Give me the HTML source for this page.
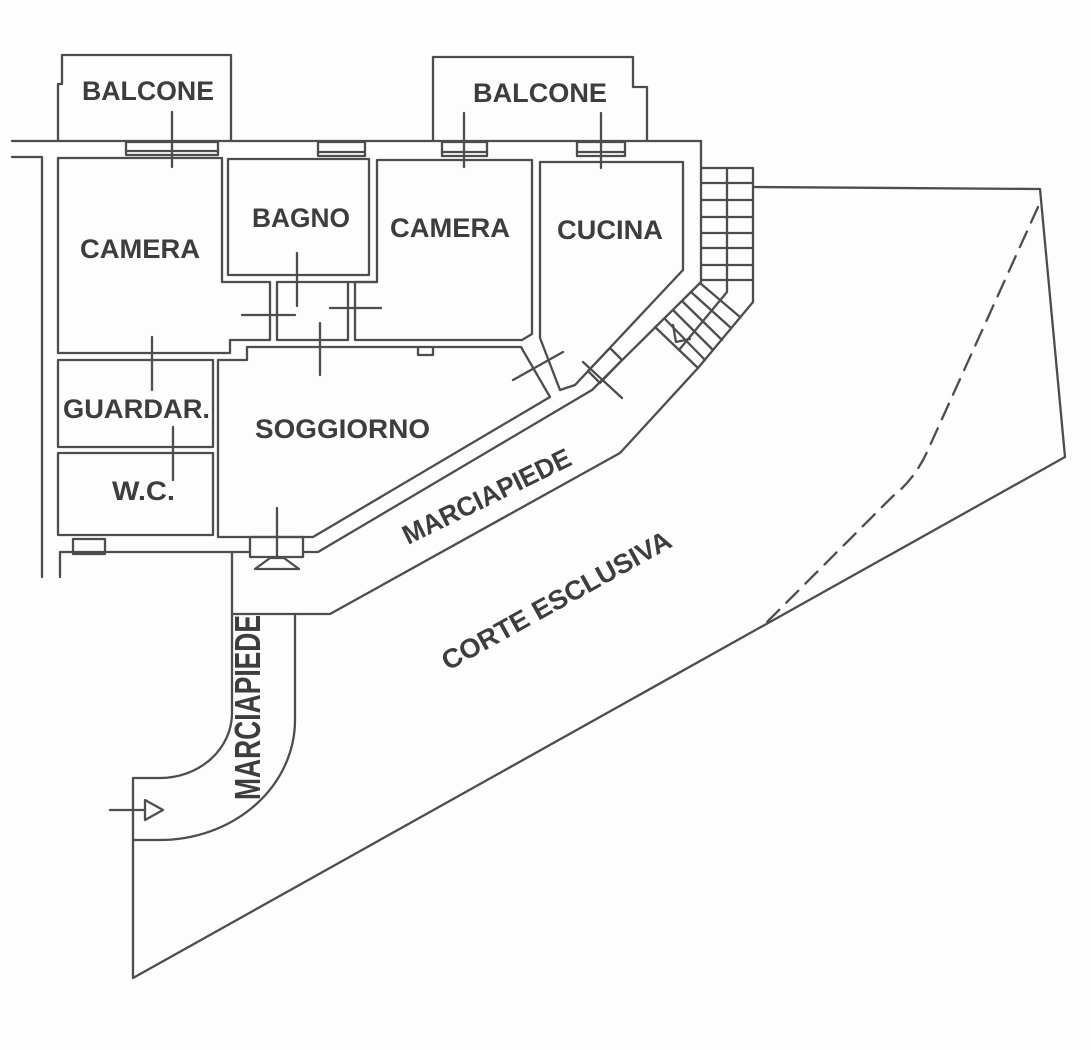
<!DOCTYPE html>
<html>
<head>
<meta charset="utf-8">
<style>
  html,body{margin:0;padding:0;background:#fdfdfd;}
  svg{display:block;}
</style>
</head>
<body>
<svg width="1091" height="1050" viewBox="0 0 1091 1050" xmlns="http://www.w3.org/2000/svg">
<rect x="0" y="0" width="1091" height="1050" fill="#fdfdfd"/>
<g fill="none" stroke="#4d4d4d" stroke-width="2.3" stroke-linejoin="round" stroke-linecap="round">
  <!-- exterior outer lines -->
  <path d="M12,141 H701 V282 L592,390 L318,552 H303 M250,552 H60 V577"/>
  <path d="M12,157 H42 V577"/>
  <!-- balconies -->
  <path d="M58,141 V84 H62 V55 H231 V141"/>
  <path d="M433,141 V57 H633 V87 H647 V141"/>
  <!-- windows top -->
  <rect x="126" y="142" width="92" height="13"/>
  <path d="M126,151 H218"/>
  <rect x="318" y="142" width="47" height="14"/>
  <path d="M318,152 H365"/>
  <rect x="442" y="142" width="45" height="14"/>
  <path d="M442,152 H487"/>
  <rect x="577" y="142" width="48" height="14"/>
  <path d="M577,152 H625"/>
  <!-- bottom windows/door -->
  <rect x="73" y="539" width="32" height="15"/>
  <rect x="250" y="537" width="53" height="20"/>
  <!-- rooms -->
  <path d="M58,158 H222 V282 H270 V340 H230 V353 H58 Z"/>
  <path d="M228,159 H369 V275 H228 Z"/>
  <path d="M277,282 H377 M277,282 V340 M348,282 V340 M277,340 H348"/>
  <path d="M377,160 H532 V334 L522,340 H355 V282 H377 Z"/>
  <path d="M247,347 H521 L550,397 L313,537 H218 V360 H247 Z"/>
  <path d="M418,347 V355 H433 V347"/>
  <path d="M540,162 H683 V270 L575,385 L560,390 L540,338 Z"/>
  <rect x="58" y="360" width="155" height="87"/>
  <rect x="58" y="453" width="155" height="82"/>
  <!-- tag lines -->
  <path d="M172,112 V167 M297,253 V306 M242,315 H295 M330,308 H381 M320,323 V375 M152,337 V390 M173,427 V480 M464,113 V167 M601,113 V168 M277,508 V557"/>
  <!-- door crosses -->
  <path d="M513,380 L563,352 M583,362 L622,398"/>
  <path d="M588,371 L610,348 L622,360 L600,383 Z"/>
  <!-- entry triangle -->
  <path d="M270,558 H284 L299,569 H255 Z"/>
  <!-- stairs -->
  <path d="M702,168 H753 V302 L698,368"/>
  <path d="M727,168 V292 L679,350"/>
  <path d="M702,183 H753 M702,200 H753 M702,217 H753 M702,233 H753 M702,248 H753 M702,265 H753 M702,280 H753"/>
  <path d="M700,283 L740,317 M691,292 L731,328 M682,301 L722,340 M673,310 L713,350 M665,319 L705,360"/>
  <path d="M655,327 L698,368"/>
  <path d="M673,325 L676,342 L690,339"/>
  <!-- marciapiede lower edge -->
  <path d="M232,614 H330 L620,453 L698,368"/>
  <!-- site boundary & curved marciapiede -->
  <path d="M232,553 V713 A72,65 0 0 1 160,778 H133 V978 L1065,457 L1040,189 L753,187"/>
  <path d="M295,614 V720 A135,120 0 0 1 160,840 H133"/>
  <!-- arrow -->
  <path d="M110,810 H145"/>
  <path d="M145,800 L163,810 L145,820 Z"/>
  <!-- dashed -->
  <path d="M1038,207 L927,452 Q914,480 893,496 L767,622" stroke-dasharray="17 10"/>
</g>
<g font-family="'Liberation Sans', Arial, sans-serif" font-weight="bold" font-size="27" fill="#3d3d3d">
  <text x="82" y="100" textLength="132" lengthAdjust="spacingAndGlyphs">BALCONE</text>
  <text x="473" y="102" textLength="134" lengthAdjust="spacingAndGlyphs">BALCONE</text>
  <text x="252" y="227" textLength="98" lengthAdjust="spacingAndGlyphs">BAGNO</text>
  <text x="80" y="258" textLength="120" lengthAdjust="spacingAndGlyphs">CAMERA</text>
  <text x="390" y="237" textLength="120" lengthAdjust="spacingAndGlyphs">CAMERA</text>
  <text x="557" y="239" textLength="106" lengthAdjust="spacingAndGlyphs">CUCINA</text>
  <text x="63" y="418" textLength="147" lengthAdjust="spacingAndGlyphs">GUARDAR.</text>
  <text x="112" y="500" textLength="63" lengthAdjust="spacingAndGlyphs">W.C.</text>
  <text x="255" y="438" textLength="175" lengthAdjust="spacingAndGlyphs">SOGGIORNO</text>
  <text x="0" y="0" transform="translate(408,545) rotate(-26)" textLength="184" lengthAdjust="spacingAndGlyphs">MARCIAPIEDE</text>
  <text x="0" y="0" transform="translate(448,671) rotate(-29)" textLength="258" lengthAdjust="spacingAndGlyphs">CORTE ESCLUSIVA</text>
  <text x="0" y="0" font-size="36" transform="translate(260,800) rotate(-90)" textLength="185" lengthAdjust="spacingAndGlyphs">MARCIAPIEDE</text>
</g>
</svg>
</body>
</html>
